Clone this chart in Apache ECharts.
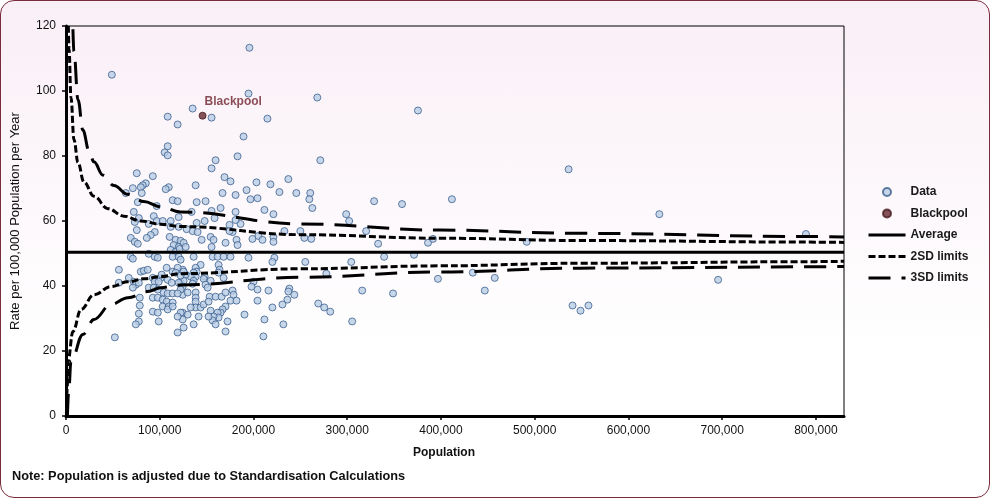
<!DOCTYPE html>
<html>
<head>
<meta charset="utf-8">
<script src="https://cdn.jsdelivr.net/npm/echarts@6/dist/echarts.min.js"></script>
<style>
    html, body { margin: 0; padding: 0; background: #fff; }
    #main {
        width: 990px; height: 498px; box-sizing: border-box;
        border: 1.5px solid #7a2c3c; border-radius: 14px;
        background: linear-gradient(#f9eff6, #fdf9fc 45%, #ffffff 70%, #ffffff);
    }
</style>
</head>
<body>
<div id="main"></div>
<script>
const log = console.log.bind(console)
const e = sel => document.querySelector(sel)

// [population, rate per 100,000]
const dataPoints = [
    [48900, 105.0], [108500, 92.1], [119100, 89.7], [108500, 83.0], [105300, 81.1], [108500, 80.2],
    [195700, 113.3], [194700, 99.2], [135100, 94.6], [155300, 91.8], [214900, 91.5], [189400, 86.0], [183000, 79.9],
    [75500, 74.7], [92600, 73.8], [85100, 71.6], [81900, 71.0], [79800, 70.4], [109600, 70.4], [106400, 69.8],
    [71300, 70.1], [63800, 68.6], [80800, 68.6], [76600, 65.8], [113800, 66.4], [119100, 66.1], [96800, 64.6],
    [72300, 62.8], [93600, 61.5], [96800, 60.0], [77700, 60.9], [73400, 59.7], [103200, 60.0], [111700, 60.0],
    [120200, 61.2], [88300, 59.1], [111700, 58.2], [120200, 58.2], [75500, 57.2], [94700, 56.6], [90400, 55.7],
    [86200, 54.8], [69100, 54.8], [73400, 53.6], [76600, 53.0], [110600, 55.1], [117000, 54.2], [122300, 53.9],
    [114900, 52.6], [120200, 52.0], [125500, 53.3], [111700, 51.1], [117000, 50.5], [121300, 51.4], [69100, 49.0],
    [88300, 49.9], [113800, 49.0], [120200, 49.0],
    [159600, 78.7], [155300, 76.2], [169100, 73.5], [175500, 72.2], [138300, 71.0], [203200, 71.9], [218100, 71.3],
    [237200, 72.9], [192600, 69.5], [167000, 68.6], [180900, 68.0], [227700, 68.9], [245700, 68.6], [196800, 66.7],
    [204300, 67.0], [139400, 65.8], [148900, 66.1], [164900, 64.0], [155300, 63.1], [180900, 62.8], [211700, 63.4],
    [221300, 62.1], [134000, 62.8], [158500, 60.9], [147900, 60.0], [139400, 59.4], [174500, 58.8], [186200, 59.1],
    [180900, 60.3], [135100, 56.9], [140400, 56.6], [128700, 57.5], [177700, 56.6], [174500, 56.9], [233000, 56.9],
    [250000, 56.9], [127700, 52.0], [144700, 54.2], [154300, 55.1], [157400, 54.2], [155300, 52.0], [170200, 53.3],
    [181900, 54.2], [183000, 52.6], [198900, 54.5], [205300, 55.4], [209600, 54.2], [221300, 55.1], [221300, 53.6],
    [254300, 54.8], [136200, 49.0], [156400, 49.0], [161700, 49.0], [168100, 49.0], [175500, 49.0], [194700, 48.7],
    [222300, 48.7],
    [220200, 47.4], [255300, 47.4], [162800, 46.5], [163800, 45.0], [162800, 44.1], [143600, 46.5], [138300, 45.6],
    [139400, 44.4], [136200, 44.1], [138300, 42.9], [124500, 45.0], [133000, 42.9], [127700, 43.5], [168100, 42.5],
    [147900, 42.9], [146800, 42.2], [122300, 41.0], [125500, 41.6], [136200, 41.6], [135100, 40.7], [154300, 41.6],
    [148900, 40.4], [151100, 39.5], [200000, 41.3], [197900, 39.8], [204300, 38.9], [216000, 38.6], [238300, 39.2],
    [237200, 38.3], [243600, 37.3], [124500, 37.3], [129800, 38.0], [138300, 38.0], [138300, 36.4], [153200, 36.7],
    [159600, 36.7], [166000, 36.7], [170200, 38.0], [177700, 38.6], [178700, 37.3], [175500, 35.5], [181900, 35.5],
    [204300, 35.5], [236200, 35.8], [230900, 34.3], [220200, 33.4], [138300, 35.2], [138300, 33.4], [133000, 33.4],
    [143600, 33.4], [146800, 34.3], [152100, 35.2], [170200, 33.7], [167000, 32.8], [164900, 31.8], [154300, 32.4],
    [124500, 31.8], [129800, 31.2], [141500, 30.6], [161700, 31.8], [162800, 30.3], [157400, 30.6], [156400, 29.4],
    [159600, 28.2], [152100, 30.6], [190400, 31.2], [124500, 29.7], [125500, 27.2], [136200, 28.2], [172300, 29.1],
    [211700, 29.7], [231900, 28.2], [170200, 26.0], [210600, 24.5],
    [71300, 48.4], [94700, 49.0], [97900, 48.7], [122300, 48.1], [56400, 45.0], [79800, 44.4], [83000, 44.7],
    [87200, 45.0], [67000, 42.5], [92600, 42.5], [94700, 41.3], [101100, 42.5], [98900, 41.3], [102100, 43.5],
    [107400, 45.6], [113800, 44.4], [119100, 45.6], [117000, 44.1], [122300, 43.2], [125500, 44.4], [108500, 41.9],
    [112800, 41.0], [56400, 41.0], [72300, 41.3], [74500, 40.4], [77700, 41.0], [71300, 39.5], [88300, 39.5],
    [93600, 39.5], [97900, 38.9], [120200, 41.0], [124500, 39.8], [122300, 38.9], [104300, 38.0], [108500, 37.7],
    [113800, 37.7], [119100, 37.7], [78700, 36.4], [92600, 36.4], [97900, 36.4], [103200, 35.8], [107400, 35.2],
    [113800, 34.9], [78700, 34.0], [103200, 33.7], [109600, 33.7], [108500, 32.8], [113800, 33.7], [92600, 32.1],
    [97900, 31.8], [77700, 31.5], [122300, 31.8], [119100, 30.6], [98900, 29.1], [77700, 29.1], [74500, 28.2],
    [119100, 25.7], [52100, 24.2],
    [268100, 98.0], [375500, 94.0], [271300, 78.7], [536200, 75.9], [260600, 68.6], [259600, 66.7], [262800, 64.0],
    [328700, 66.1], [358500, 65.2], [411700, 66.7], [298900, 62.1], [302100, 60.0], [320200, 56.9], [261700, 54.5],
    [333000, 53.0], [386200, 53.3], [391500, 54.5], [491500, 53.6], [304300, 47.4], [339400, 49.0], [371300, 49.6],
    [277700, 43.8], [434000, 44.1], [396800, 42.2], [457400, 42.5], [316000, 38.6], [348900, 37.7], [446800, 38.6],
    [269100, 34.6], [275500, 33.4], [281900, 32.1], [305300, 29.1], [540400, 34.0], [548900, 32.4], [557400, 34.0],
    [633000, 62.1], [789400, 56.0], [695700, 41.9],
]

const blackpool = [[145700, 92.4]]

const average = [[0, 50.4], [830000, 50.4]]

const sd2Upper = [
    [2500, 120], [3200, 113], [5300, 98], [8500, 85], [12800, 78], [19100, 72], [29800, 67.6], [44700, 63.8],
    [61700, 61.5], [79800, 60.0], [101000, 59.0], [122000, 58.3], [250000, 55.8], [399000, 54.7],
    [548000, 54.0], [800000, 53.5], [830000, 53.4],
]
const sd2Lower = [
    [500, 0], [1200, 8], [2100, 16.8], [7400, 26.0], [16000, 32.8], [29800, 37.3], [47900, 39.8], [66000, 41.3],
    [83000, 42.2], [101000, 42.9], [122000, 43.8], [250000, 45.3], [399000, 46.2], [548000, 47.0],
    [800000, 47.5], [830000, 47.6],
]
const sd3Upper = [
    [7400, 119], [8500, 112.2], [12800, 97.3], [18100, 87.9], [24500, 81.6], [29800, 78.2], [39400, 74.1],
    [51100, 70.9], [66000, 68.2], [83000, 66.0], [101000, 64.4], [122000, 62.8], [250000, 59.1], [399000, 57.2],
    [548000, 56.2], [800000, 55.2], [830000, 55.1],
]
const sd3Lower = [
    [1500, 0], [3000, 8], [5300, 16.8], [18100, 25.1], [29800, 29.7], [47900, 34.3], [66000, 36.4], [87200, 38.3],
    [101000, 39.5], [122000, 40.3], [250000, 42.7], [399000, 44.3], [548000, 45.5], [800000, 45.9], [830000, 46.0],
]

const xTicks = [0, 100000, 200000, 300000, 400000, 500000, 600000, 700000, 800000]

const font = 'Arial, "Liberation Sans", sans-serif'

const limitLine = (name, data, dash) => {
    return {
        name: name,
        type: 'line',
        data: data,
        symbol: 'none',
        smooth: 0.4,
        smoothMonotone: 'x',
        itemStyle: { color: '#000' },
        lineStyle: { color: '#000', width: 3, type: dash },
        silent: true,
    }
}

const lineLegend = name => ({ name: name, itemStyle: { opacity: 0 }, lineStyle: { width: 3 } })

const __main = () => {
    let chart = echarts.init(e('#main'), null, { renderer: 'canvas' })
    let option = {
        backgroundColor: 'transparent',
        animation: false,
        textStyle: { fontFamily: font },
        title: {
            text: 'Note: Population is adjusted due to Standardisation Calculations',
            left: 11,
            top: 467,
            padding: [2, 0, 0, 0],
            textStyle: { fontSize: 12.75, fontWeight: 'bold', color: '#111', fontFamily: font },
        },
        legend: {
            orient: 'vertical',
            left: 866,
            top: 185,
            padding: 0,
            itemWidth: 37,
            itemHeight: 8,
            itemGap: 9.5,
            textStyle: { fontSize: 12, fontWeight: 'bold', color: '#1a1a1a', fontFamily: font },
            data: ['Data', 'Blackpool', lineLegend('Average'), lineLegend('2SD limits'), lineLegend('3SD limits')],
        },
        grid: {
            left: 65,
            right: 145,
            top: 25,
            bottom: 81,
            show: true,
            borderColor: '#000',
            borderWidth: 1,
            backgroundColor: 'transparent',
        },
        xAxis: {
            type: 'value',
            min: 0,
            max: 830000,
            interval: 100000,
            name: 'Population',
            nameLocation: 'middle',
            nameGap: 31,
            nameTextStyle: { fontSize: 12, fontWeight: 'bold', color: '#111', padding: [0, 22, 0, 0] },
            splitLine: { show: false },
            axisLine: { lineStyle: { color: '#000', width: 3 } },
            axisTick: { show: true, length: 4, lineStyle: { color: '#000', width: 1.5 }, customValues: xTicks },
            axisLabel: {
                fontSize: 12, color: '#111', margin: 9,
                customValues: xTicks,
                formatter: v => v.toLocaleString('en-US'),
            },
        },
        yAxis: {
            type: 'value',
            min: 0,
            max: 120,
            interval: 20,
            name: 'Rate per 100,000 Population per Year',
            nameLocation: 'middle',
            nameGap: 44,
            nameTextStyle: { fontSize: 13, color: '#111' },
            splitLine: { show: false },
            axisLine: { lineStyle: { color: '#000', width: 3 } },
            axisTick: { show: true, length: 4, lineStyle: { color: '#000', width: 1.5 } },
            axisLabel: { fontSize: 12, color: '#111', margin: 10 },
        },
        series: [
            {
                name: 'Data',
                type: 'scatter',
                data: dataPoints,
                symbol: 'circle',
                symbolSize: 7,
                itemStyle: { color: '#b9cde5', borderColor: '#3b5f8d', borderWidth: 1 },
                z: 2,
            },
            {
                name: 'Blackpool',
                type: 'scatter',
                data: blackpool,
                symbol: 'circle',
                symbolSize: 7,
                itemStyle: { color: '#632a2f', borderColor: '#4a1c22', borderWidth: 1 },
                label: {
                    show: true,
                    formatter: 'Blackpool',
                    position: [6, -16],
                    fontSize: 12,
                    fontWeight: 'bold',
                    color: '#6e1f2a',
                    fontFamily: font,
                },
                z: 3,
            },
            {
                name: 'Average',
                type: 'line',
                data: average,
                symbol: 'none',
                itemStyle: { color: '#000' },
                lineStyle: { color: '#000', width: 3 },
                silent: true,
            },
            limitLine('2SD limits', sd2Upper, [7, 3]),
            limitLine('2SD limits', sd2Lower, [7, 3]),
            limitLine('3SD limits', sd3Upper, [22, 11]),
            limitLine('3SD limits', sd3Lower, [22, 11]),
        ],
    }
    chart.setOption(option)
}

__main()
</script>
</body>
</html>
